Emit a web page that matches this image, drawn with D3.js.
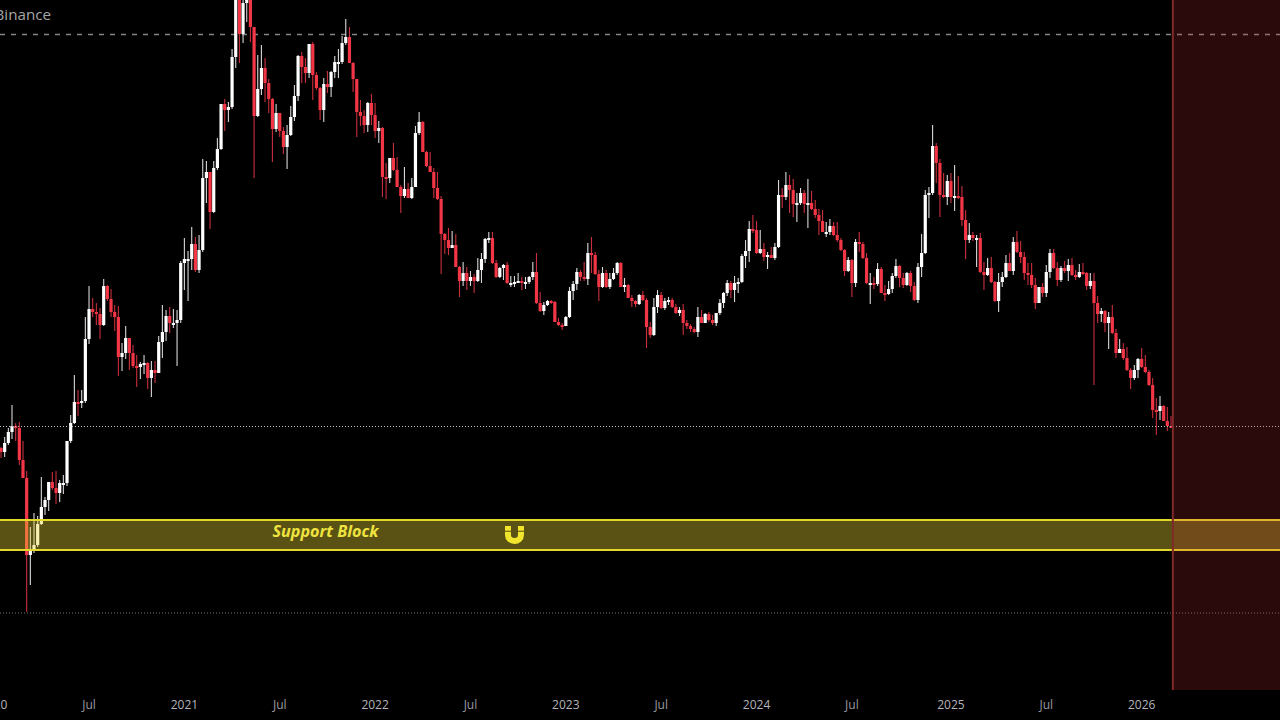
<!DOCTYPE html>
<html><head><meta charset="utf-8">
<script src="https://cdnjs.cloudflare.com/ajax/libs/d3/7.8.5/d3.min.js"></script>
<style>html,body{margin:0;padding:0;background:#000;overflow:hidden}svg{display:block}</style>
</head><body><div id="c"></div>
<script>
const closes=[248,257,268,274,272,240,222,145,150,155,
176,193,200,218,212,207,217,217,259,277,
298,297,299,361,391,388,386,375,414,401,
388,383,343,347,362,347,334,333,336,337,
322,330,327,358,368,384,377,377,380,437,
441,441,456,430,450,522,528,488,532,551,
596,590,593,643,708,666,697,700,673,584,
611,632,617,601,571,587,569,553,565,583,
604,644,633,627,656,625,612,590,616,613,
628,638,638,657,663,637,621,588,584,575,
597,585,569,572,523,522,542,530,513,504,
511,502,513,567,578,548,534,528,512,501,
466,460,452,455,433,419,427,419,423,419,
430,441,461,462,437,423,432,435,417,417,
418,419,418,418,423,428,397,389,395,399,
398,378,375,374,383,409,416,428,423,421,
447,445,426,413,427,413,421,427,437,413,
415,402,399,396,405,400,373,365,393,405,
392,399,400,393,387,390,377,374,371,368,
383,377,386,380,377,387,397,407,417,410,
417,418,444,449,471,470,447,451,443,445,
442,453,505,503,515,510,496,497,507,496,
497,491,485,479,468,468,474,465,460,450,
429,440,417,458,456,442,417,417,416,431,
407,406,411,424,434,422,415,427,414,400,
433,447,505,507,554,537,505,503,519,503,
504,503,480,460,465,462,462,428,425,432,
418,399,418,423,437,429,458,448,443,427,
425,415,397,413,407,428,447,432,420,432,
429,435,425,423,428,427,414,419,397,386,
389,377,383,367,347,351,342,330,322,330,
341,333,328,315,290,289,294,279,274,273];
const highs=[253,263,272,295,277,278,259,229,173,187,
184,223,203,218,228,229,220,225,259,285,
325,310,310,383,414,402,397,392,421,415,
411,395,394,357,374,362,355,345,338,345,
338,339,339,364,395,390,393,391,390,439,
462,449,473,463,465,541,539,528,539,562,
596,601,598,651,720,720,705,710,715,673,
645,655,642,621,602,596,587,573,575,594,
615,645,648,642,656,658,628,613,622,629,
629,644,651,664,681,673,638,621,600,590,
598,606,597,579,573,537,542,557,543,515,
533,517,522,574,588,579,549,548,532,528,
504,467,472,469,466,434,438,433,429,426,
442,447,462,468,468,440,433,436,438,424,
424,427,423,423,424,438,447,408,398,400,
400,399,382,377,384,413,419,432,430,438,
457,463,448,430,433,430,427,432,438,438,
422,416,405,400,406,409,402,378,402,410,
408,402,403,402,396,393,396,380,376,373,
393,390,387,388,385,387,401,408,420,419,
424,422,446,460,479,485,479,470,457,448,
453,457,520,512,528,525,521,507,512,510,
521,509,500,491,490,478,481,478,478,462,
451,443,441,461,468,458,447,427,423,437,
433,415,419,427,441,435,427,428,429,418,
437,466,510,513,575,557,541,527,525,527,
535,524,514,490,477,468,465,467,438,442,
443,419,427,428,445,447,463,469,459,448,
437,437,422,413,417,435,451,451,438,434,
439,441,442,430,436,437,428,427,427,404,
392,390,388,395,371,361,357,353,332,335,
342,352,345,330,322,302,304,295,293,284];
const lows=[242,243,255,261,259,235,222,88,115,147,
153,175,185,189,210,196,198,206,214,257,
276,284,292,297,356,383,375,361,374,399,
383,369,324,329,341,330,332,313,321,326,
311,303,317,327,342,359,367,372,334,377,
410,399,430,428,427,448,497,471,487,530,
550,569,578,591,632,637,657,678,658,522,
583,605,598,587,538,568,563,546,531,564,
579,599,617,617,622,600,610,580,578,607,
603,622,622,636,655,637,608,563,574,567,
568,575,562,557,503,501,517,529,513,487,
502,502,501,513,565,548,533,528,502,500,
426,446,445,452,433,403,414,410,414,407,
418,417,437,457,436,422,422,420,416,413,
413,417,410,411,416,420,396,388,385,394,
396,378,374,370,374,382,400,410,419,419,
415,427,425,399,412,412,411,420,425,413,
408,402,393,393,395,399,352,362,364,387,
391,390,395,392,386,384,365,371,368,367,
363,377,377,378,375,374,385,392,404,402,
398,407,417,432,438,467,446,446,439,431,
442,440,452,492,500,487,483,478,495,487,
472,490,482,465,468,463,465,464,458,449,
424,428,403,413,448,441,416,396,411,414,
407,399,405,407,422,413,412,414,408,399,
397,423,446,482,505,517,483,502,495,497,
489,501,474,441,457,459,433,427,410,424,
417,398,388,413,422,429,425,447,437,420,
415,412,391,397,403,403,422,431,414,418,
427,419,424,420,422,425,410,411,315,377,
378,368,351,366,342,347,340,329,311,320,
322,332,327,314,282,265,280,279,269,272];
const tickIndex=[-2,24,50,76,102,128,154,180,206,232,259,285,311];
const tickLabels=["2020","Jul","2021","Jul","2022","Jul","2023","Jul","2024","Jul","2025","Jul","2026"];
const dashedLevel=665.5, dottedLevelUpper=273.5, dottedLevelLower=87;
const blockTop=180, blockBottom=150;
const blockLabel="Support Block", blockLabelIndex=74, blockMagnetIndex=140;
const sourceLabel="Binance";
const eventIndex=319.5;

const W=1280,H=720,plotBottom=690;
const RED="#f23645",WHITE="#ffffff",YELLOW="#e4d82a";
const x=d3.scaleLinear().domain([0,319]).range([1,1171]);
const y=d3.scaleLinear().domain([0,700]).range([700,0]);
const svg=d3.select("#c").append("svg").attr("width",W).attr("height",H).style("background","#000");

svg.append("text").attr("x",-5.5).attr("y",19.5).text(sourceLabel)
 .attr("font-family","'Open Sans',sans-serif").attr("font-size",15.2).attr("fill","#a6a6a6");

svg.append("line").attr("x1",0).attr("x2",W).attr("y1",y(dashedLevel)).attr("y2",y(dashedLevel))
 .attr("stroke","#858585").attr("stroke-width",1.5).attr("stroke-dasharray","5 6");

const candles=closes.map((c,i)=>({i,c,h:highs[i],l:lows[i],o:i?closes[i-1]:c+4}));
const g=svg.append("g");
g.selectAll("line.w").data(candles).join("line").attr("class","w")
 .attr("x1",d=>x(d.i)).attr("x2",d=>x(d.i)).attr("y1",d=>y(d.h)).attr("y2",d=>y(d.l))
 .attr("stroke",d=>d.c>=d.o?"#d8d8d8":"#c92f3c").attr("stroke-width",1.1);
g.selectAll("rect.b").data(candles).join("rect").attr("class","b")
 .attr("x",d=>x(d.i)-1.6).attr("width",3.2)
 .attr("y",d=>y(Math.max(d.o,d.c)))
 .attr("height",d=>Math.max(2,Math.abs(y(d.o)-y(d.c))))
 .attr("fill",d=>d.c>=d.o?WHITE:RED);

[[dottedLevelUpper,"#c0c0c0"],[dottedLevelLower,"#707070"]].forEach(([v,col])=>{
 svg.append("line").attr("x1",0).attr("x2",W).attr("y1",y(v)).attr("y2",y(v))
  .attr("stroke",col).attr("stroke-width",1).attr("stroke-dasharray","1 2");
});

svg.append("rect").attr("x",0).attr("width",W).attr("y",y(blockTop)).attr("height",y(blockBottom)-y(blockTop))
 .attr("fill","rgb(236,216,53)").attr("fill-opacity",.38);
[blockTop,blockBottom].forEach(v=>svg.append("line").attr("x1",0).attr("x2",W).attr("y1",y(v)).attr("y2",y(v))
 .attr("stroke",YELLOW).attr("stroke-width",2.2));
svg.append("text").attr("x",x(blockLabelIndex)).attr("y",y(blockTop)+16.5).text(blockLabel)
 .attr("font-family","'Open Sans',sans-serif").attr("font-weight","bold").attr("font-style","italic")
 .attr("font-size",16.2).attr("fill","#efe33f");
const mg=svg.append("g").attr("transform",`translate(${x(blockMagnetIndex)},${y(blockTop)+13})`);
mg.append("path").attr("d","M-6.5,-1.3 V2 A6.5,6 0 0 0 6.5,2 V-1.3").attr("fill","none").attr("stroke","#f2e52e").attr("stroke-width",6);
[-9.5,3.5].forEach(cx=>mg.append("rect").attr("x",cx).attr("y",-7).attr("width",6).attr("height",4.7).attr("fill","#f2e52e"));

const zx=x(eventIndex);
svg.append("rect").attr("x",zx).attr("width",W-zx).attr("y",0).attr("height",plotBottom)
 .attr("fill","rgb(210,50,50)").attr("fill-opacity",.2);
svg.append("line").attr("x1",zx).attr("x2",zx).attr("y1",0).attr("y2",plotBottom)
 .attr("stroke","#802a2a").attr("stroke-width",2);

svg.selectAll("text.t").data(tickIndex).join("text").attr("class","t")
 .attr("x",d=>x(d)).attr("y",709).attr("text-anchor","middle")
 .text((d,i)=>tickLabels[i])
 .attr("font-family","'Open Sans',sans-serif").attr("font-size",12)
 .attr("font-weight",500)
 .attr("fill",(d,i)=>tickLabels[i]==="Jul"?"#9a9aa0":"#b4b4ba");
</script></body></html>
